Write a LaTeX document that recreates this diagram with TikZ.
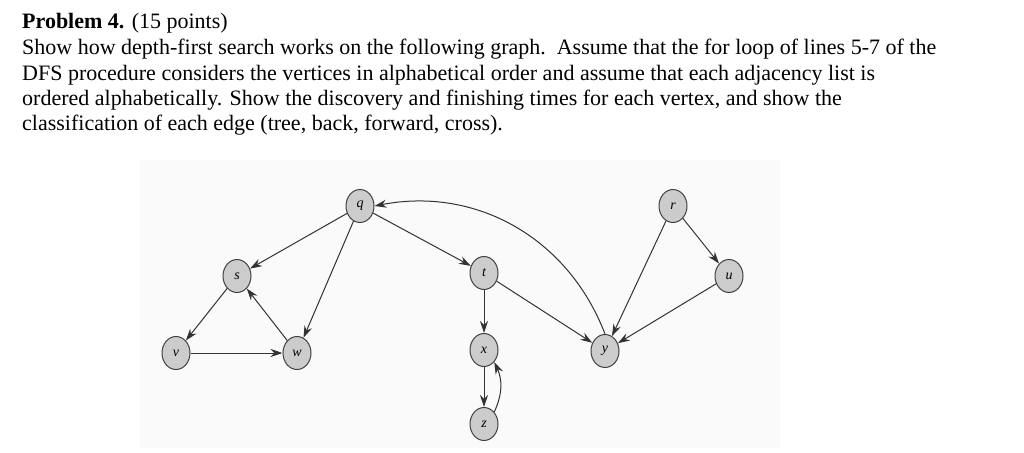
\documentclass[tikz,border=0pt]{standalone}
\usepackage{fontspec}
\setmainfont{Liberation Serif}
\usetikzlibrary{arrows.meta,shapes.geometric}
\begin{document}
\begin{tikzpicture}[x=1pt,y=-1pt,
  v/.style={ellipse,draw=black!75,fill=black!20,line width=1pt,minimum width=28pt,minimum height=33pt,inner sep=0pt,font=\itshape\fontsize{14}{14}\selectfont},
  e/.style={-{Stealth[length=12pt,width=8pt,inset=4pt]},line width=1pt,black!80},
  txt/.style={anchor=base west,inner sep=0pt,font=\fontsize{22}{24}\selectfont}]
\useasboundingbox (0,0) rectangle (1024,452);
\fill[black!2] (140,160) rectangle (780,448);
\node[txt] (t0) at (22,29) {\textbf{Problem 4.} (15 points)};
\node[txt] (t1) at (22,55) {Show how depth-first search works on the following graph.\ \ Assume that the for loop of lines 5-7 of the};
\node[txt] (t2) at (22,80) {DFS procedure considers the vertices in alphabetical order and assume that each adjacency list is};
\node[txt] (t3) at (22,105) {ordered alphabetically. Show the discovery and finishing times for each vertex, and show the};
\node[txt] (t4) at (22,130) {classification of each edge (tree, back, forward, cross).};
\node[v] (q) at (360,206) {q};
\node[v] (s) at (237,276) {s};
\node[v] (vv) at (176,353) {v};
\node[v] (w) at (297,353) {w};
\node[v] (t) at (484,273) {t};
\node[v] (x) at (484,350) {x};
\node[v] (z) at (484,424) {z};
\node[v] (y) at (605,351) {y};
\node[v] (r) at (673,206) {r};
\node[v] (u) at (729,276) {u};
\draw[e] (q) -- (s);
\draw[e] (q) -- (w);
\draw[e] (q) -- (t);
\draw[e] (s) -- (vv);
\draw[e] (vv) -- (w);
\draw[e] (w) -- (s);
\draw[e] (t) -- (x);
\draw[e] (t) -- (y);
\draw[e] (x) -- (z);
\draw[e] (z.north east) to[bend right=25] (x.south east);
\draw[e] (y.north) to[bend right=40] (q.east);
\draw[e] (r) -- (u);
\draw[e] (r) -- (y);
\draw[e] (u) -- (y);
\end{tikzpicture}
\end{document}
